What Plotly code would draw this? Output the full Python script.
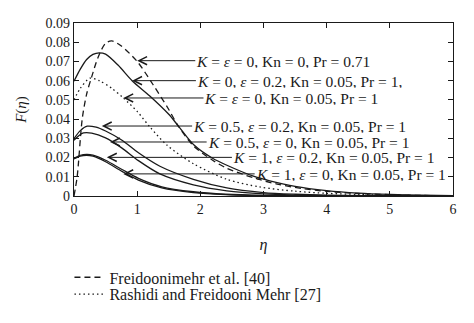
import plotly.graph_objects as go

# Freidoonimehr et al. [40]: K = eps = 0, Kn = 0, Pr = 0.71 (dashed)
eta_ref40 = [0, 0.05, 0.13, 0.2, 0.28, 0.38, 0.5, 0.6, 0.75, 1.0, 1.25, 1.5, 1.65, 1.9, 2.2, 2.42, 2.84, 3.2, 3.6, 4.0, 4.5, 5.0, 5.5, 6.0]
F_ref40 = [0, 0.010, 0.040, 0.053, 0.062, 0.072, 0.0795, 0.0807, 0.078, 0.070, 0.058, 0.045, 0.0364, 0.0258, 0.0185, 0.0144, 0.0095, 0.0063, 0.0039, 0.0024, 0.0013, 0.0007, 0.0003, 0.0001]

# Rashidi and Freidooni Mehr [27]: K = eps = 0, Kn = 0.05, Pr = 1 (dotted)
eta_ref27 = [0, 0.1, 0.25, 0.4, 0.6, 0.78, 1.0, 1.2, 1.47, 1.89, 2.42, 2.94, 3.5, 4.0, 4.5, 5.0, 5.5, 6.0]
F_ref27 = [0.050, 0.056, 0.0613, 0.060, 0.056, 0.051, 0.044, 0.036, 0.0265, 0.0168, 0.0087, 0.0047, 0.0025, 0.0014, 0.0008, 0.0004, 0.0002, 0.0001]

# Present results (solid)
eta_a = [0, 0.1, 0.2, 0.3, 0.4, 0.5, 0.7, 0.92, 1.2, 1.5, 1.65, 1.9, 2.2, 2.42, 2.84, 3.1, 3.5, 4.0, 4.5, 5.0, 5.5, 6.0]
F_K0_e02 = [0.0597, 0.066, 0.071, 0.0737, 0.0745, 0.0738, 0.068, 0.060, 0.052, 0.0425, 0.0365, 0.0265, 0.0195, 0.016, 0.0103, 0.0079, 0.005, 0.0028, 0.0015, 0.0008, 0.0004, 0.0002]

eta_b = [0, 0.1, 0.21, 0.35, 0.5, 0.76, 1.02, 1.36, 1.89, 2.42, 3.0, 3.5, 4.0, 5.0, 6.0]
F_K05_e02 = [0.0298, 0.034, 0.0363, 0.0358, 0.0338, 0.029, 0.0225, 0.0155, 0.0087, 0.0042, 0.0018, 0.0009, 0.0004, 0.0001, 0.0]

eta_c = [0, 0.08, 0.15, 0.28, 0.5, 0.76, 1.02, 1.36, 1.89, 2.42, 3.0, 3.5, 4.0, 5.0, 6.0]
F_K05_e0 = [0.029, 0.0315, 0.0328, 0.0327, 0.0302, 0.0249, 0.0184, 0.0115, 0.0058, 0.0027, 0.0011, 0.0005, 0.0002, 0.00005, 0.0]

eta_d = [0, 0.1, 0.2, 0.3, 0.5, 0.76, 1.02, 1.39, 1.89, 2.4, 3.0, 4.0, 6.0]
F_K1_e02 = [0.0196, 0.0212, 0.0217, 0.0213, 0.0186, 0.0138, 0.0092, 0.0048, 0.0022, 0.0009, 0.0003, 0.00005, 0.0]
F_K1_e0 = [0.0193, 0.0208, 0.0212, 0.0207, 0.0178, 0.0128, 0.0083, 0.0042, 0.0018, 0.0007, 0.0002, 0.00003, 0.0]

x_ticks = [0, 1, 2, 3, 4, 5, 6]
y_ticks = [0, 0.01, 0.02, 0.03, 0.04, 0.05, 0.06, 0.07, 0.08, 0.09]

# Curve labels: (text, label start eta, label F, arrow tip eta, arrow tip F)
labels = [
    ("<i>K</i> = <i>ε</i> = 0, Kn = 0, Pr = 0.71", 1.92, 0.0704, 1.0, 0.0704),
    ("<i>K</i> = 0, <i>ε</i> = 0.2, Kn = 0.05, Pr = 1,", 1.93, 0.0600, 0.92, 0.0600),
    ("<i>K</i> = <i>ε</i> = 0, Kn = 0.05, Pr = 1", 2.05, 0.0510, 0.78, 0.0510),
    ("<i>K</i> = 0.5, <i>ε</i> = 0.2, Kn = 0.05, Pr = 1", 1.87, 0.0364, 0.44, 0.0364),
    ("<i>K</i> = 0.5, <i>ε</i> = 0, Kn = 0.05, Pr = 1", 2.10, 0.0281, 0.57, 0.0281),
    ("<i>K</i> = 1, <i>ε</i> = 0.2, Kn = 0.05, Pr = 1", 2.50, 0.0201, 0.52, 0.0201),
    ("<i>K</i> = 1, <i>ε</i> = 0, Kn = 0.05, Pr = 1", 2.86, 0.0115, 0.78, 0.0115),
]

SERIF = "Liberation Serif"
INK = "#1a1a1a"

fig = go.Figure()

solid = dict(color=INK, width=1.3, shape="spline", smoothing=0.8)
for eta, F in [(eta_a, F_K0_e02), (eta_b, F_K05_e02), (eta_c, F_K05_e0),
               (eta_d, F_K1_e02), (eta_d, F_K1_e0)]:
    fig.add_trace(go.Scatter(x=eta, y=F, mode="lines", line=solid, showlegend=False,
                             hoverinfo="skip"))

fig.add_trace(go.Scatter(x=eta_ref40, y=F_ref40, mode="lines",
                         name="Freidoonimehr et al. [40]", legend="legend",
                         line=dict(color=INK, width=1.3, dash="6px,4px", shape="spline", smoothing=0.8)))
fig.add_trace(go.Scatter(x=eta_ref27, y=F_ref27, mode="lines",
                         name="Rashidi and Freidooni Mehr [27]", legend="legend2",
                         line=dict(color=INK, width=1.3, dash="1.5px,3px", shape="spline", smoothing=0.8)))

for text, tx, ty, hx, hy in labels:
    fig.add_annotation(x=hx, y=hy, ax=tx, ay=ty, xref="x", yref="y", axref="x", ayref="y",
                       text=text, showarrow=True, arrowhead=5, arrowsize=1.6, arrowwidth=1,
                       arrowcolor=INK, xanchor="left", yanchor="middle", borderpad=0,
                       height=14, valign="middle",
                       font=dict(family=SERIF, size=15.5, color=INK))

axis_common = dict(showline=True, linecolor=INK, linewidth=1.3, mirror="ticks",
                   ticks="inside", ticklen=5, tickwidth=1, tickcolor=INK,
                   showgrid=False, zeroline=False,
                   tickfont=dict(family=SERIF, size=14, color=INK))

fig.update_xaxes(range=[0, 6], tickvals=x_ticks, title=dict(text="<i>η</i>", standoff=22,
                 font=dict(family=SERIF, size=16, color=INK)), **axis_common)
fig.update_yaxes(range=[0, 0.09], tickvals=y_ticks, title=dict(text="<i>F</i>(<i>η</i>)", standoff=15,
                 font=dict(family=SERIF, size=15, color=INK)), **axis_common)

legend_style = dict(xanchor="left", yanchor="top", bgcolor="rgba(0,0,0,0)",
                    font=dict(family=SERIF, size=16, color=INK), itemwidth=30)

fig.update_layout(
    width=474, height=323,
    margin=dict(l=74, r=21, t=23, b=115),
    paper_bgcolor="white", plot_bgcolor="white",
    font=dict(family=SERIF, color=INK),
    showlegend=True,
    legend=dict(x=-0.012, y=-0.372, **legend_style),
    legend2=dict(x=-0.012, y=-0.470, **legend_style),
)

fig.write_html("out.html")
